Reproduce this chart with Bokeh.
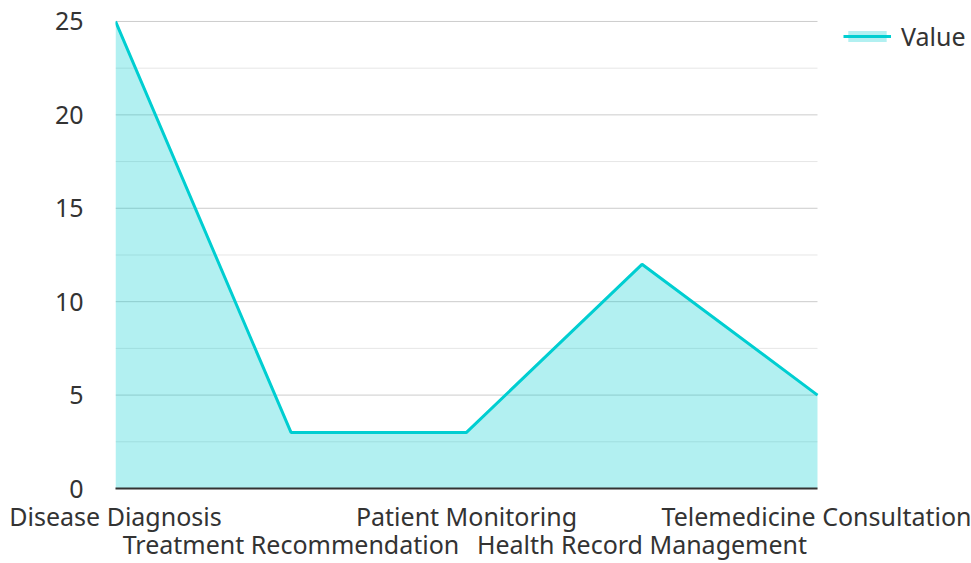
from bokeh.plotting import figure
from bokeh.models import (Range1d, FixedTicker, LinearAxis, Legend, LegendItem,
                          ColumnDataSource)
from bokeh.embed import file_html
from bokeh.resources import INLINE

categories = ["Disease Diagnosis", "Treatment Recommendation", "Patient Monitoring",
              "Health Record Management", "Telemedicine Consultation"]
values = [25, 3, 3, 12, 5]
series_name = "Value"
y_ticks = [0, 5, 10, 15, 20, 25]
y_minor = [2.5, 7.5, 12.5, 17.5, 22.5]

FONT = "Noto Sans"
FS = "25px"
TEXT = "#333333"
TEAL = "#00CED1"

W, H = 971, 563
TOP, BOTTOM, LEFT, RIGHT = 0, 74, 115, 0
FRAME_W = W - LEFT - RIGHT
FRAME_H = H - TOP - BOTTOM
DATA_W, DATA_H = 702, 468          # pixel size of the plotted data area
X_MAX = len(categories) - 1
Y_MAX = y_ticks[-1]

xs = list(range(len(categories)))
src = ColumnDataSource(dict(x=xs, y=values, y0=[0] * len(values)))

p = figure(width=W, height=H, output_backend="svg", toolbar_location=None,
           x_range=Range1d(0, X_MAX * FRAME_W / DATA_W),
           y_range=Range1d(0, Y_MAX * FRAME_H / DATA_H),
           min_border_left=LEFT, min_border_right=RIGHT, min_border_top=TOP,
           min_border_bottom=BOTTOM)
p.outline_line_color = None
p.background_fill_color = "white"
p.border_fill_color = "white"
p.xgrid.grid_line_color = None
p.ygrid.grid_line_color = None

# grid lines limited to the data area
p.segment(x0=[0] * len(y_minor), x1=[X_MAX] * len(y_minor), y0=y_minor, y1=y_minor,
          line_color="#e6e6e6", line_width=1)
p.segment(x0=[0] * len(y_ticks), x1=[X_MAX] * len(y_ticks), y0=y_ticks, y1=y_ticks,
          line_color="#cccccc", line_width=1)

area = p.varea(x='x', y1='y0', y2='y', source=src, fill_color=TEAL, fill_alpha=0.3)
line = p.line(x='x', y='y', source=src, line_color=TEAL, line_width=3)

# y axis
ya = p.yaxis[0]
ya.ticker = FixedTicker(ticks=y_ticks)
ya.axis_line_color = None
ya.major_tick_line_color = None
ya.minor_tick_line_color = None
ya.major_label_text_font = FONT
ya.major_label_text_font_size = FS
ya.major_label_text_color = TEXT
ya.major_label_standoff = 26

# x axis (even labels)
xa = p.xaxis[0]
xa.ticker = FixedTicker(ticks=xs[0::2])
xa.major_label_overrides = {i: categories[i] for i in xs[0::2]}
xa.bounds = (0, X_MAX)
xa.axis_line_color = "#333333"
xa.axis_line_width = 2
xa.major_tick_line_color = None
xa.minor_tick_line_color = None
xa.major_label_text_font = FONT
xa.major_label_text_font_size = FS
xa.major_label_text_color = TEXT
xa.major_label_standoff = 4
xa.axis_label_standoff = 0

# second x axis (odd labels)
xa2 = LinearAxis(ticker=FixedTicker(ticks=xs[1::2]),
                 major_label_overrides={i: categories[i] for i in xs[1::2]})
xa2.axis_line_color = None
xa2.major_tick_line_color = None
xa2.minor_tick_line_color = None
xa2.major_label_text_font = FONT
xa2.major_label_text_font_size = FS
xa2.major_label_text_color = TEXT
xa2.major_label_standoff = -15
xa2.axis_label_standoff = 0
p.add_layout(xa2, "below")

legend = Legend(items=[LegendItem(label=series_name, renderers=[area, line])],
                location=(DATA_W + 26, FRAME_H - 54))
legend.label_text_font = FONT
legend.label_text_font_size = FS
legend.label_text_color = TEXT
legend.glyph_width = 48
legend.glyph_height = 14
legend.border_line_color = None
legend.background_fill_alpha = 0
legend.margin = 0
legend.padding = 0
legend.label_standoff = 10
p.add_layout(legend, "center")

open("out.html", "w").write(file_html(p, INLINE))
